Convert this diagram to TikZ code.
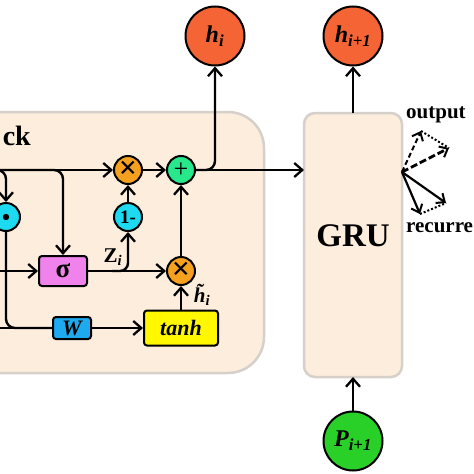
\documentclass[tikz,border=0pt]{standalone}
\usepackage{fontspec}
\setmainfont{Liberation Serif}
\usetikzlibrary{arrows.meta}
\definecolor{hred}{RGB}{244,100,52}
\definecolor{pgreen}{RGB}{40,208,40}
\definecolor{morange}{RGB}{245,160,30}
\definecolor{agreen}{RGB}{40,232,140}
\definecolor{ccyan}{RGB}{30,218,240}
\definecolor{spink}{RGB}{240,130,236}
\definecolor{wblue}{RGB}{30,170,238}
\definecolor{tyellow}{RGB}{255,248,0}
\definecolor{beige}{RGB}{252,237,220}
\definecolor{shadegrey}{RGB}{214,208,202}
\tikzset{
  conn/.style={line width=2.4pt},
  arr/.style={conn,-{Straight Barb[length=8pt,width=14pt,line width=2.3pt]}},
  bigcirc/.style={circle,draw,line width=2pt,minimum size=59pt,inner sep=0pt,font=\fontsize{24}{24}\selectfont\bfseries\itshape},
  opcirc/.style={circle,draw,line width=2pt,minimum size=28pt,inner sep=0pt,font=\fontsize{18}{18}\selectfont\bfseries},
  opbox/.style={rectangle,draw,rounded corners=3pt,line width=2pt,inner sep=0pt},
  panel/.style={fill=beige,draw=shadegrey,line width=2.5pt},
  fanarr/.style={line width=2.2pt,-{Straight Barb[length=7pt,width=12pt,line width=2pt]}},
  sidetext/.style={anchor=west,inner sep=0pt,font=\fontsize{21}{21}\selectfont\bfseries}
}
\begin{document}
\begin{tikzpicture}[x=1pt,y=-1pt]
\useasboundingbox (0,0) rectangle (474,474);
% panels
\draw[panel,rounded corners=36pt] (-60,112) rectangle (264,373);
\draw[panel,rounded corners=11pt] (304,113) rectangle (402,377);
\coordinate (gruW) at (304,170);
\coordinate (gruN) at (353,113);
\coordinate (gruS) at (353,377);
\coordinate (fo) at (402,172);
\node[font=\fontsize{33}{33}\selectfont\bfseries] (grut) at (353,236) {GRU};
\node[anchor=east,inner sep=0pt,font=\fontsize{28}{28}\selectfont\bfseries] (title) at (31,136) {ck};
% outer circles
\node[bigcirc,fill=hred] (hi) at (215,36) {h\textsubscript{i}};
\node[bigcirc,fill=hred] (hii) at (353,36) {h\textsubscript{i+1}};
\node[bigcirc,fill=pgreen] (P) at (353,441) {P\textsubscript{i+1}};
% inner ops
\node[opcirc,fill=morange,font=\fontsize{32}{32}\selectfont\bfseries] (m1) at (128,170) {×};
\node[opcirc,fill=agreen,font=\fontsize{26}{26}\selectfont] (add) at (181,170) {+};
\node[opcirc,fill=ccyan,font=\fontsize{19}{19}\selectfont\bfseries] (om) at (128,217) {1-};
\node[opcirc,fill=morange,font=\fontsize{32}{32}\selectfont\bfseries] (m2) at (181,271) {×};
\node[opcirc,fill=ccyan] (dot) at (6,217) {};
\fill (dot.center) circle (3.2pt);
\node[opbox,fill=spink,minimum width=48pt,minimum height=30pt,font=\fontsize{27}{27}\selectfont\bfseries] (sig) at (63,271) {σ};
\node[opbox,fill=wblue,minimum width=38pt,minimum height=22pt,font=\fontsize{22}{22}\selectfont\bfseries\itshape] (W) at (72,328) {W};
\node[opbox,fill=tyellow,minimum width=74pt,minimum height=35pt,font=\fontsize{22}{22}\selectfont\bfseries\itshape] (tanh) at (181,328) {tanh};
% labels
\node[font=\fontsize{21}{21}\selectfont\bfseries] (zl) at (113,257) {Z\textsubscript{\itshape i}};
\node[font=\fontsize{21}{21}\selectfont\bfseries\itshape] (hl) at (202,295) {\~{h}\textsubscript{i}};
% input coordinates
\coordinate (inA) at (-12,170);
\coordinate (inB) at (-12,271);
\coordinate (inC) at (-12,328);
\coordinate (zb) at (112,271);
% connectors inside block
\draw[arr] (inA) -- (m1.west);
\draw[arr,rounded corners=9pt] (inA) -| (dot.north);
\draw[arr,rounded corners=9pt] (inA) -| (sig.north);
\draw[arr] (m1.east) -- (add.west);
\draw[arr] (add.east) -- (gruW);
\draw[arr,rounded corners=9pt] (add.east) -| (hi.south);
\draw[arr] (inB) -- (sig.west);
\draw[arr] (sig.east) -- (m2.west);
\draw[arr,rounded corners=8pt] (zb) -| (om.south);
\draw[arr] (om.north) -- (m1.south);
\draw[arr] (tanh.north) -- (m2.south);
\draw[arr] (m2.north) -- (add.south);
\draw[conn] (inC) -- (W.west);
\draw[conn,rounded corners=9pt] (dot.south) |- (W.west);
\draw[arr] (W.east) -- (tanh.west);
% GRU connectors
\draw[arr] (gruN) -- (hii.south);
\draw[arr] (P.north) -- (gruS);
% fan of arrows
\coordinate (o1) at (421,131);
\coordinate (o2) at (449,148);
\coordinate (r1) at (446,203);
\coordinate (r2) at (420,214);
\draw[fanarr,dash pattern=on 5pt off 3pt,line width=2pt] (fo) -- (o1);
\draw[fanarr,dash pattern=on 7pt off 3pt,line width=2.8pt] (fo) -- (o2);
\draw[line width=2pt,dash pattern=on 2pt off 2pt] (o1) -- (o2);
\draw[fanarr] (fo) -- (r1);
\draw[fanarr] (fo) -- (r2);
\draw[line width=2pt,dash pattern=on 2pt off 2pt] (r2) -- (r1);
\node[sidetext] (out) at (406,115) {output};
\node[sidetext] (rec) at (406,228) {recurre};
\end{tikzpicture}
\end{document}
